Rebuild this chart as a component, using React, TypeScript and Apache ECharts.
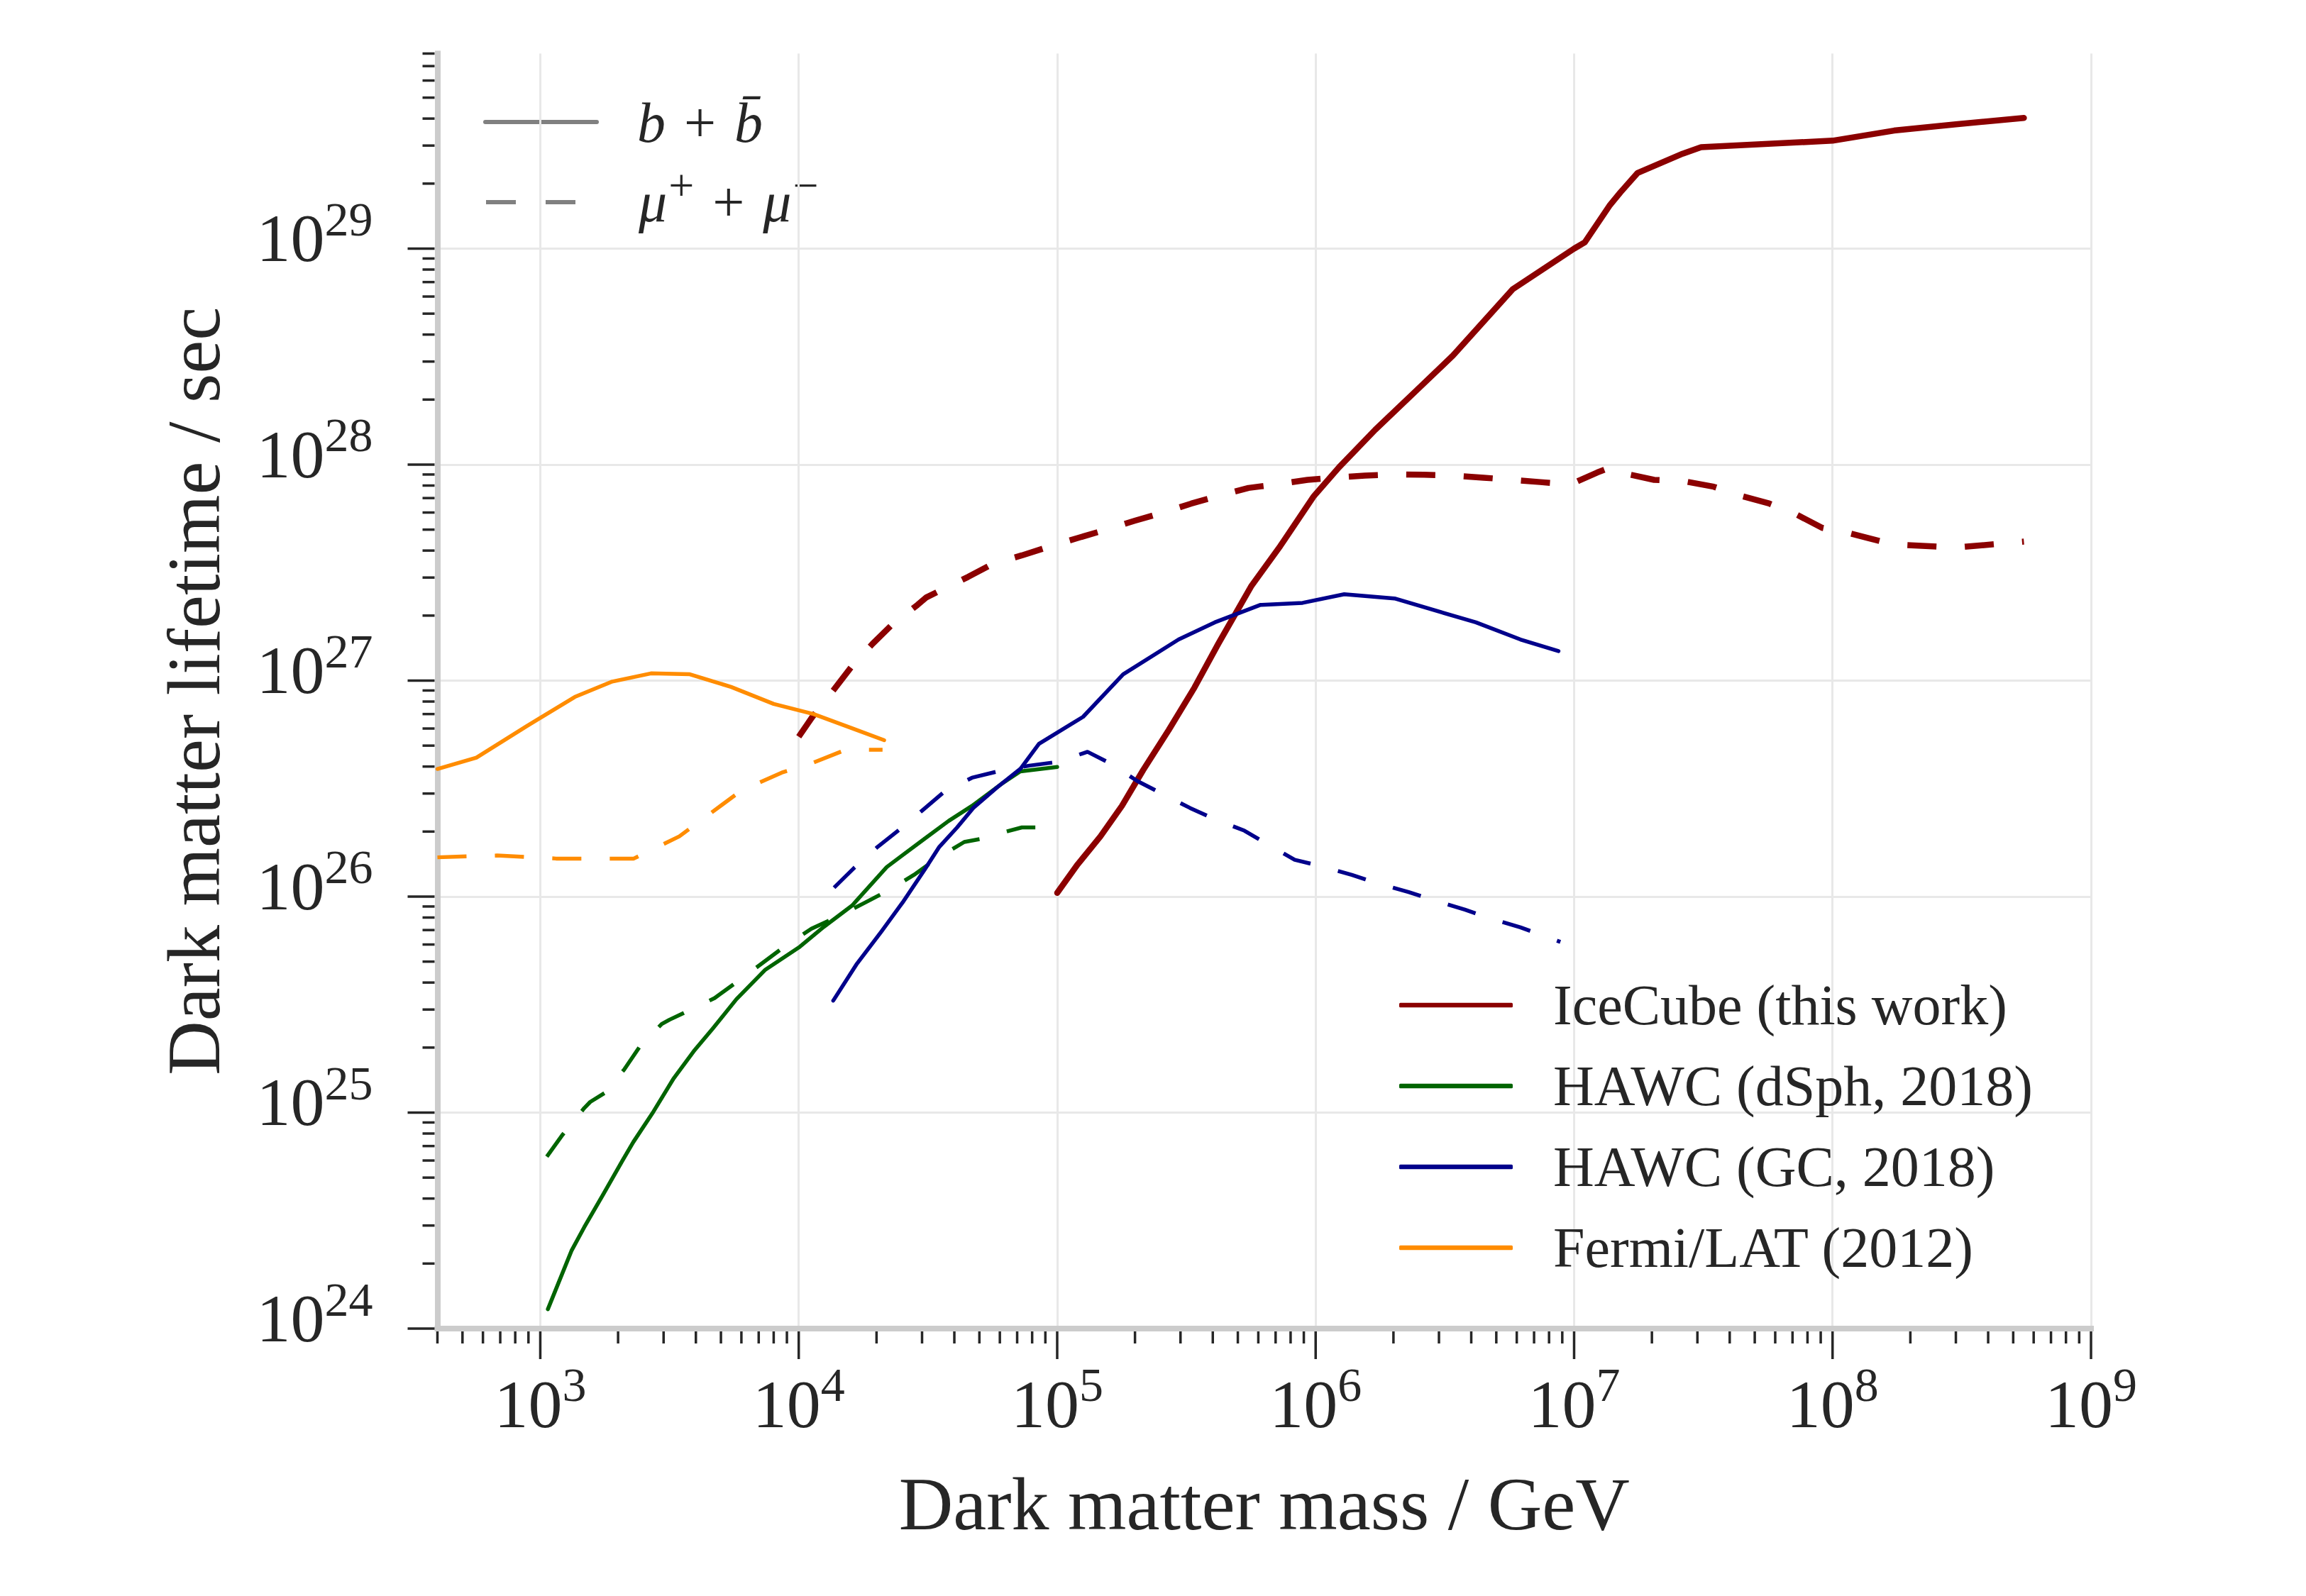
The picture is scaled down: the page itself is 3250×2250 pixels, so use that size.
import React, { useEffect, useRef } from "react";
import * as echarts from "echarts";

const FONT = "'Liberation Serif', 'Times New Roman', serif";
const TEXT = "#262626";

// Axis ranges
const X_MIN = 400;
const X_MAX = 1e9;
const Y_MIN = 1e24;
const Y_MAX = 8e29;

// Tick values (decades and 2..9 sub-decade multipliers)
const xDecades = [1e2, 1e3, 1e4, 1e5, 1e6, 1e7, 1e8, 1e9];
const yDecades = [1e24, 1e25, 1e26, 1e27, 1e28, 1e29];
const minorMultipliers = [2, 3, 4, 5, 6, 7, 8, 9];

const legendNames = [
  "IceCube (this work)",
  "HAWC (dSph, 2018)",
  "HAWC (GC, 2018)",
  "Fermi/LAT (2012)",
];
const colors = ["#8b0000", "#006400", "#00008b", "#ff8c00"];

// [mass GeV, lifetime s]
const iceCubeBB = [
  [1.0e5, 1.04e26], [1.2e5, 1.41e26], [1.47e5, 1.9e26], [1.78e5, 2.63e26],
  [2.15e5, 3.85e26], [2.7e5, 5.9e26], [3.4e5, 9.3e26], [4.2e5, 1.48e27],
  [5.65e5, 2.75e27], [7.3e5, 4.2e27], [9.8e5, 7.1e27], [1.23e6, 9.7e27],
  [1.7e6, 1.45e28], [2.45e6, 2.2e28], [3.4e6, 3.2e28], [5.8e6, 6.5e28],
  [1.0e7, 1.0e29], [1.1e7, 1.07e29], [1.37e7, 1.58e29], [1.51e7, 1.82e29],
  [1.76e7, 2.24e29], [2.63e7, 2.75e29], [3.1e7, 2.95e29], [1.0e8, 3.16e29],
  [1.73e8, 3.52e29], [3.0e8, 3.76e29], [5.5e8, 4.03e29],
];
const iceCubeMuMu = [
  [1.0e4, 5.5e26], [1.13e4, 6.8e26], [1.37e4, 9.1e26], [1.61e4, 1.17e27],
  [1.93e4, 1.48e27], [2.3e4, 1.82e27], [2.88e4, 2.24e27], [3.12e4, 2.43e27],
  [3.5e4, 2.6e27], [4.52e4, 3.02e27], [5.62e4, 3.47e27], [7.3e4, 3.8e27],
  [9.3e4, 4.17e27], [1.2e5, 4.57e27], [1.55e5, 5.0e27], [2.0e5, 5.5e27],
  [2.57e5, 6.0e27], [3.3e5, 6.6e27], [4.2e5, 7.16e27], [5.5e5, 7.8e27],
  [7.1e5, 8.1e27], [9.3e5, 8.5e27], [1.17e6, 8.7e27], [1.55e6, 8.9e27],
  [2.0e6, 9.0e27], [2.63e6, 8.97e27], [3.4e6, 8.9e27], [4.47e6, 8.7e27],
  [5.75e6, 8.5e27], [7.4e6, 8.3e27], [9.7e6, 8.1e27], [1.23e7, 9.2e27],
  [1.38e7, 9.7e27], [1.57e7, 9.1e27], [2.04e7, 8.5e27], [2.63e7, 8.4e27],
  [3.47e7, 7.9e27], [4.37e7, 7.2e27], [5.7e7, 6.6e27], [7.2e7, 5.9e27],
  [9.1e7, 5.1e27], [1.17e8, 4.8e27], [1.55e8, 4.4e27], [1.74e8, 4.27e27],
  [3.0e8, 4.13e27], [5.5e8, 4.4e27],
];
const hawcDsphBB = [
  [1.07e3, 1.23e24], [1.32e3, 2.29e24], [1.48e3, 2.95e24], [1.75e3, 4.17e24],
  [2.08e3, 6.0e24], [2.29e3, 7.3e24], [2.74e3, 1.01e25], [3.27e3, 1.43e25],
  [3.96e3, 1.95e25], [4.65e3, 2.45e25], [5.74e3, 3.35e25], [7.4e3, 4.57e25],
  [1.01e4, 5.86e25], [1.25e4, 7.24e25], [1.61e4, 9.1e25], [2.19e4, 1.37e26],
  [3.08e4, 1.86e26], [3.8e4, 2.24e26], [4.68e4, 2.63e26], [6.14e4, 3.35e26],
  [7.2e4, 3.8e26], [1.0e5, 3.98e26],
];
const hawcDsphMuMu = [
  [1.06e3, 6.25e24], [1.22e3, 7.9e24], [1.48e3, 1.05e25], [1.56e3, 1.12e25],
  [1.77e3, 1.23e25], [2.11e3, 1.58e25], [2.44e3, 2.04e25], [2.95e3, 2.57e25],
  [3.16e3, 2.69e25], [3.72e3, 2.95e25], [4.73e3, 3.39e25], [5.83e3, 4.07e25],
  [7.2e3, 4.9e25], [8.85e3, 5.9e25], [1.12e4, 7.1e25], [1.42e4, 8.1e25],
  [1.78e4, 9.3e25], [2.23e4, 1.07e26], [2.79e4, 1.26e26], [3.44e4, 1.51e26],
  [4.37e4, 1.79e26], [5.2e4, 1.86e26], [5.58e4, 1.92e26], [7.3e4, 2.09e26],
  [9.0e4, 2.09e26], [9.3e4, 2.04e26],
];
const hawcGcBB = [
  [1.36e4, 3.3e25], [1.67e4, 4.84e25], [2.09e4, 6.9e25], [2.54e4, 9.5e25],
  [3.08e4, 1.34e26], [3.5e4, 1.7e26], [4.1e4, 2.09e26], [4.73e4, 2.57e26],
  [5.85e4, 3.2e26], [7.2e4, 3.9e26], [8.5e4, 5.1e26], [1.26e5, 6.8e26],
  [1.8e5, 1.07e27], [2.95e5, 1.55e27], [4.07e5, 1.86e27], [6.1e5, 2.24e27],
  [8.9e5, 2.29e27], [1.29e6, 2.51e27], [2.02e6, 2.4e27], [4.17e6, 1.86e27],
  [6.2e6, 1.55e27], [8.7e6, 1.37e27],
];
const hawcGcMuMu = [
  [1.37e4, 1.1e26], [1.64e4, 1.36e26], [2.02e4, 1.7e26], [2.45e4, 2.04e26],
  [3.0e4, 2.5e26], [3.66e4, 3.06e26], [4.68e4, 3.55e26], [5.9e4, 3.8e26],
  [7.8e4, 4.04e26], [1.0e5, 4.2e26], [1.31e5, 4.68e26], [1.61e5, 4.13e26],
  [2.04e5, 3.43e26], [2.51e5, 3.02e26], [3.27e5, 2.57e26], [4.04e5, 2.29e26],
  [5.3e5, 2.02e26], [6.5e5, 1.75e26], [8.3e5, 1.48e26], [1.06e6, 1.38e26],
  [1.38e6, 1.26e26], [1.74e6, 1.15e26], [2.29e6, 1.05e26], [2.92e6, 9.55e25],
  [3.78e6, 8.7e25], [4.79e6, 7.9e25], [6.2e6, 7.2e25], [8.85e6, 6.17e25],
];
const fermiBB = [
  [400, 3.9e26], [566, 4.4e26], [889, 6.17e26], [1.36e3, 8.4e26],
  [1.9e3, 9.9e26], [2.68e3, 1.08e27], [3.79e3, 1.07e27], [5.47e3, 9.35e26],
  [8.0e3, 7.8e26], [1.14e4, 7.0e26], [1.62e4, 6.0e26], [2.14e4, 5.3e26],
];
const fermiMuMu = [
  [400, 1.52e26], [681, 1.55e26], [1.15e3, 1.5e26], [2.3e3, 1.5e26],
  [3.45e3, 1.9e26], [6.0e3, 3.1e26], [8.6e3, 3.75e26], [1.11e4, 4.12e26],
  [1.53e4, 4.8e26], [2.11e4, 4.78e26],
];

const solidSets = [iceCubeBB, hawcDsphBB, hawcGcBB, fermiBB];
const dashedSets = [iceCubeMuMu, hawcDsphMuMu, hawcGcMuMu, fermiMuMu];
const lineWidths = [8.5, 5.5, 5.5, 5.5];
const DASH = [41, 40];

function buildTicks(decades: number[], lo: number, hi: number) {
  const out: number[][] = [];
  decades.forEach((d) => {
    if (d >= lo * 0.999 && d <= hi * 1.001) out.push([d, 1]);
    minorMultipliers.forEach((m) => {
      const v = m * d;
      if (v >= lo * 0.999 && v <= hi * 1.001) out.push([v, 0]);
    });
  });
  return out;
}

const labelRich = {
  b: { fontFamily: FONT, fontSize: 96, lineHeight: 96, color: TEXT, verticalAlign: "bottom" },
  s: { fontFamily: FONT, fontSize: 68, lineHeight: 68, color: TEXT, verticalAlign: "bottom", padding: [0, 0, 41, 0] },
};

const powFormatter = (v: number) => `{b|10}{s|${Math.round(Math.log10(v))}}`;

export default function App() {
  const ref = useRef<HTMLDivElement>(null);
  useEffect(() => {
    if (!ref.current) return;
    const chart = echarts.init(ref.current, undefined, { renderer: "svg" });

    const xTicks = buildTicks(xDecades, X_MIN, X_MAX);
    const yTicks = buildTicks(yDecades, Y_MIN, Y_MAX);

    const series: any[] = [];
    for (let i = 0; i < 4; i++) {
      series.push({
        name: legendNames[i],
        type: "line",
        data: solidSets[i],
        symbol: "none",
        silent: true,
        z: 2 + i,
        color: colors[i],
        lineStyle: { color: colors[i], width: lineWidths[i], type: "solid", cap: "round", join: "round" },
      });
      series.push({
        name: legendNames[i],
        type: "line",
        data: dashedSets[i],
        symbol: "none",
        silent: true,
        z: 2 + i,
        color: colors[i],
        lineStyle: { color: colors[i], width: lineWidths[i], type: DASH, cap: "butt", join: "round" },
      });
    }
    series.push({
      type: "custom",
      name: "xticks",
      silent: true,
      clip: false,
      z: 10,
      data: xTicks.map((t) => [t[0], Y_MIN, t[1]]),
      renderItem: (_p: any, api: any) => {
        const pt = api.coord([api.value(0), api.value(1)]);
        const len = api.value(2) === 1 ? 43 : 21;
        return {
          type: "line",
          shape: { x1: pt[0], y1: pt[1] + 4, x2: pt[0], y2: pt[1] + len },
          style: { stroke: TEXT, lineWidth: 3.5 },
        };
      },
    });
    series.push({
      type: "custom",
      name: "yticks",
      silent: true,
      clip: false,
      z: 10,
      data: yTicks.map((t) => [X_MIN, t[0], t[1]]),
      renderItem: (_p: any, api: any) => {
        const pt = api.coord([api.value(0), api.value(1)]);
        const len = api.value(2) === 1 ? 42 : 21;
        return {
          type: "line",
          shape: { x1: pt[0] - 4, y1: pt[1], x2: pt[0] - len, y2: pt[1] },
          style: { stroke: TEXT, lineWidth: 3.5 },
        };
      },
    });

    const mathRich = {
      i: { fontFamily: FONT, fontSize: 80, lineHeight: 80, fontStyle: "italic", fill: TEXT, verticalAlign: "bottom" },
      n: { fontFamily: FONT, fontSize: 80, lineHeight: 80, fill: TEXT, verticalAlign: "bottom", padding: [0, 6, 0, 6] },
      s: { fontFamily: FONT, fontSize: 64, lineHeight: 64, fill: TEXT, verticalAlign: "bottom", padding: [0, 0, 32, 2] },
    };

    const option: any = {
      animation: false,
      backgroundColor: "#ffffff",
      textStyle: { fontFamily: FONT, color: TEXT },
      grid: { left: 616.5, right: 303, top: 75.5, bottom: 377, containLabel: false },
      xAxis: {
        type: "log",
        logBase: 10,
        min: X_MIN,
        max: X_MAX,
        name: "Dark matter mass / GeV",
        nameLocation: "middle",
        nameGap: 194,
        nameTextStyle: { fontFamily: FONT, fontSize: 106, color: TEXT },
        axisLine: { show: true, onZero: false, lineStyle: { color: "#cccccc", width: 8, cap: "square" } },
        axisTick: { show: false },
        minorTick: { show: false },
        splitLine: { show: true, showMinLine: false, lineStyle: { color: "#e8e8e8", width: 3 } },
        axisLabel: {
          showMinLabel: false,
          showMaxLabel: true,
          margin: 58,
          formatter: powFormatter,
          rich: labelRich,
        },
      },
      yAxis: {
        type: "log",
        logBase: 10,
        min: Y_MIN,
        max: Y_MAX,
        name: "Dark matter lifetime / sec",
        nameLocation: "middle",
        nameGap: 290,
        nameTextStyle: { fontFamily: FONT, fontSize: 106, color: TEXT },
        axisLine: { show: true, onZero: false, lineStyle: { color: "#cccccc", width: 8, cap: "square" } },
        axisTick: { show: false },
        minorTick: { show: false },
        splitLine: { show: true, showMaxLine: false, lineStyle: { color: "#e8e8e8", width: 3 } },
        axisLabel: {
          showMinLabel: true,
          showMaxLabel: false,
          margin: 91,
          padding: [0, 0, 29, 0],
          formatter: powFormatter,
          rich: labelRich,
        },
      },
      legend: {
        data: legendNames,
        orient: "vertical",
        left: 1972,
        top: 1377,
        padding: 0,
        icon: "roundRect",
        itemWidth: 160,
        itemHeight: 6.5,
        itemGap: 34,
        selectedMode: false,
        textStyle: { fontFamily: FONT, fontSize: 80, lineHeight: 80, color: TEXT, padding: [0, 0, 0, 52] },
      },
      graphic: [
        {
          type: "line",
          silent: true,
          shape: { x1: 684, y1: 172, x2: 841, y2: 172 },
          style: { stroke: "#808080", lineWidth: 6, lineCap: "round" },
        },
        {
          type: "line",
          silent: true,
          shape: { x1: 685, y1: 285, x2: 841, y2: 285 },
          style: { stroke: "#808080", lineWidth: 6, lineDash: [42, 42], lineCap: "butt" },
        },
        {
          type: "text",
          silent: true,
          x: 898,
          y: 173,
          style: {
            text: "{i|b}{n| + }{i|b\u0304}",
            verticalAlign: "middle",
            align: "left",
            rich: mathRich,
          },
        },
        {
          type: "text",
          silent: true,
          x: 900,
          y: 285,
          style: {
            text: "{i|\u03bc}{s|+}{n| + }{i|\u03bc}{s|\u2212}",
            verticalAlign: "middle",
            align: "left",
            rich: mathRich,
          },
        },
      ],
      series,
    };
    chart.setOption(option);
    return () => chart.dispose();
  }, []);

  return (
    <div
      ref={ref}
      style={{ position: "absolute", left: 0, top: 0, width: 3250, height: 2250, background: "#ffffff" }}
    />
  );
}
